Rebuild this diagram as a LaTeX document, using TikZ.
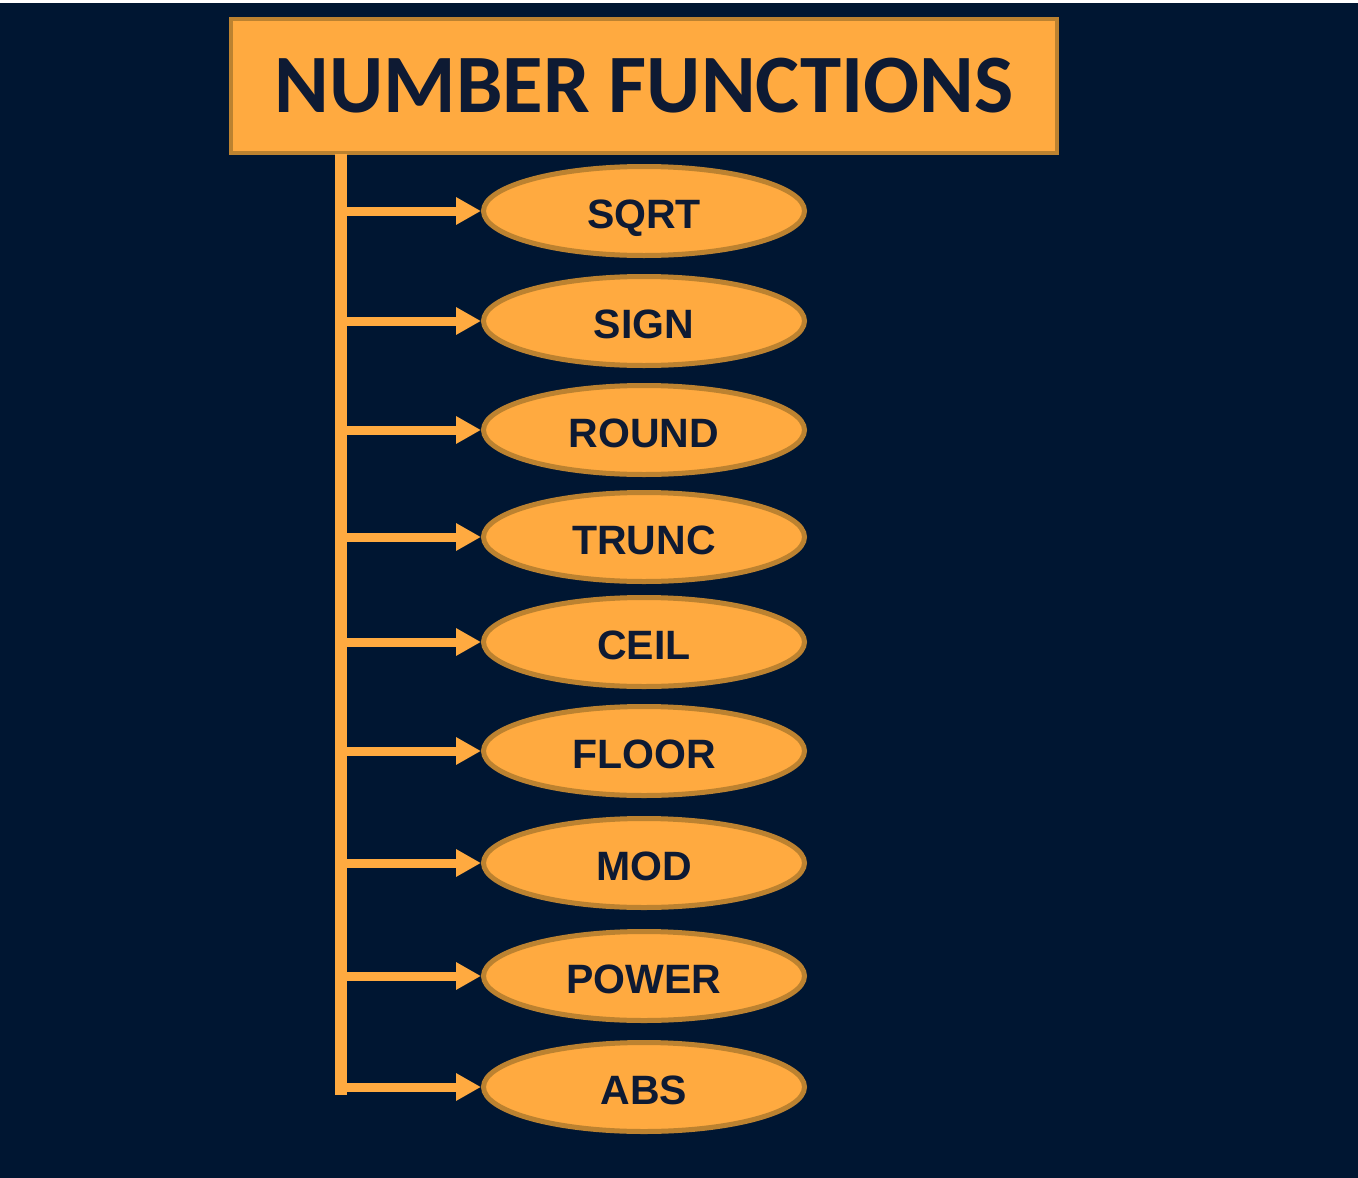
\documentclass[tikz,border=0pt]{standalone}
\usepackage{fontspec}
\setmainfont{Liberation Sans}
\newfontfamily\titlefont{Carlito}
\usetikzlibrary{arrows.meta,shapes.geometric}
\definecolor{navybg}{HTML}{001632}
\definecolor{orangefill}{HTML}{FFAA40}
\definecolor{orangeline}{HTML}{BC8230}
\definecolor{inktext}{HTML}{0E1A33}
\tikzset{
  func/.style={ellipse, draw=orangeline, line width=5pt, fill=orangefill,
    minimum width=321pt, minimum height=89pt, inner sep=0pt,
    text height=35pt, text depth=0pt,
    text=inktext, font=\fontsize{41}{41}\selectfont\bfseries},
  feed/.style={draw=orangefill, line width=9pt, -{Triangle[length=25pt,width=26pt]}}
}
\begin{document}
\begin{tikzpicture}[x=1pt,y=-1pt]
\fill[navybg] (0,0) rectangle (1358,1178);
\fill[white] (0,0) rectangle (1358,3);

\node[draw=orangeline, line width=4pt, fill=orangefill, minimum width=826pt, minimum height=134pt,
  text=inktext, font=\titlefont\fontsize{83}{83}\selectfont\bfseries] (title) at (644,86) {NUMBER FUNCTIONS};

\coordinate (bartop) at (341,154);
\coordinate (barend) at (341,1095);
\draw[orangefill, line width=12pt] (bartop) -- (barend);
\coordinate (barx) at (347,0);

\node[func] (sqrt) at (644,211) {SQRT};
\node[func] (sign) at (644,321) {SIGN};
\node[func] (round) at (644,430) {ROUND};
\node[func] (trunc) at (644,537) {TRUNC};
\node[func] (ceil) at (644,642) {CEIL};
\node[func] (floor) at (644,751) {FLOOR};
\node[func] (mod) at (644,863) {MOD};
\node[func] (power) at (644,976) {POWER};
\node[func] (abs) at (644,1087) {ABS};

\draw[feed] (barx |- sqrt.west) -- (sqrt.west);
\draw[feed] (barx |- sign.west) -- (sign.west);
\draw[feed] (barx |- round.west) -- (round.west);
\draw[feed] (barx |- trunc.west) -- (trunc.west);
\draw[feed] (barx |- ceil.west) -- (ceil.west);
\draw[feed] (barx |- floor.west) -- (floor.west);
\draw[feed] (barx |- mod.west) -- (mod.west);
\draw[feed] (barx |- power.west) -- (power.west);
\draw[feed] (barx |- abs.west) -- (abs.west);
\end{tikzpicture}
\end{document}
